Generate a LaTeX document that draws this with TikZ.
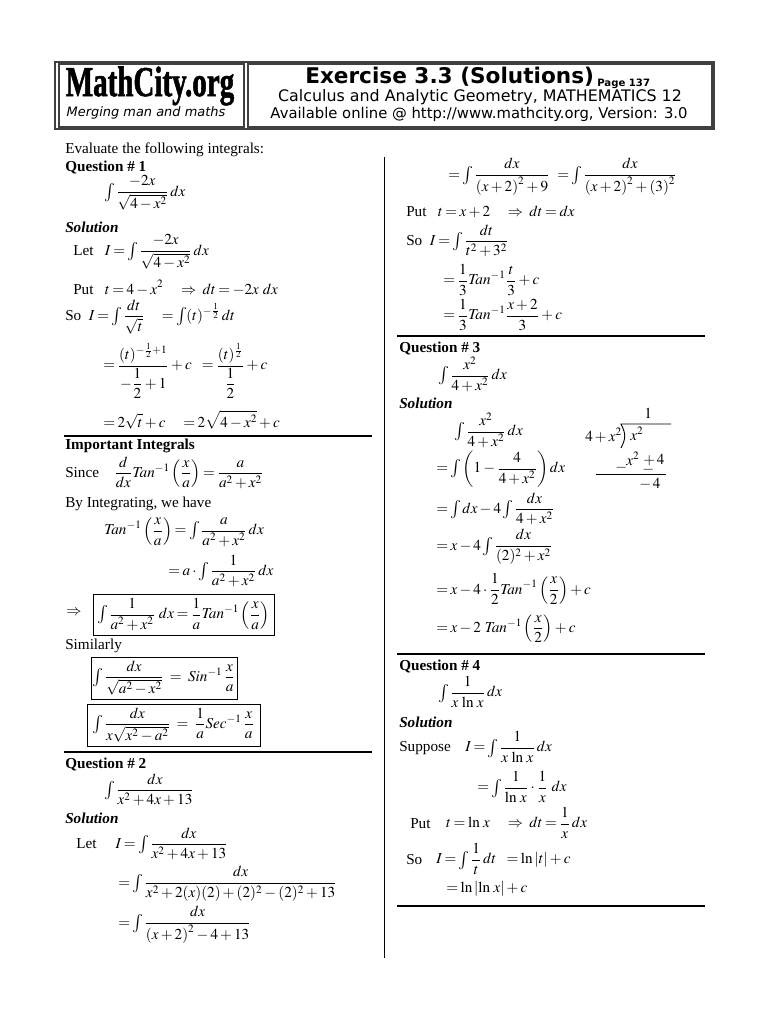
\documentclass[tikz,border=0pt]{standalone}
\usepackage{amsmath}
\usepackage{mathptmx}
\usepackage{graphicx}
\usepackage[no-math]{fontspec}
\setmainfont{Liberation Serif}
\newfontfamily\headfont{DejaVu Sans}
\newfontfamily\logofont[FakeStretch=0.68,FakeBold=1.2]{Liberation Serif Bold}
\newcommand{\ds}{\displaystyle\thickmuskip=3mu\medmuskip=2.5mu}
\newcommand{\Int}{\mathop{\vcenter{\hbox{\scalebox{1.2}{$\textstyle\int$}}}}\nolimits\mspace{-1mu}}
\newcommand{\Tani}{\mathit{Tan}^{-1}}
\newcommand{\Sini}{\mathit{Sin}^{-1}}
\newcommand{\Seci}{\mathit{Sec}^{-1}}
\tikzset{
  txt/.style={anchor=west,inner sep=0pt,font=\fontsize{11.4}{13}\selectfont},
  head/.style={txt,font=\fontsize{11.4}{13}\selectfont\bfseries},
  sol/.style={txt,font=\fontsize{11.4}{13}\selectfont\bfseries\itshape},
  boxed/.style={draw,line width=0.7pt,inner sep=0pt,font=\fontsize{11.4}{13}\selectfont},
  rulebar/.style={line width=1.1pt},
  frame/.style={line width=0.85pt,draw=black!75}
}
\begin{document}
\begin{tikzpicture}[x=0.75pt,y=-0.75pt]
  \useasboundingbox (0,0) rectangle (768,1024);
  \draw[frame,line width=1.2pt] (55,62) rectangle (714,129);
  \draw[frame] (59,64) rectangle (244,127);
  \draw[frame] (248,64) rectangle (712,127);
  \node[inner sep=0pt] (logo) at (150,86) {\logofont\fontsize{32}{34}\selectfont MathCity.org};
  \node[inner sep=0pt] (motto) at (146,113) {\headfont\itshape\fontsize{9.7}{11}\selectfont Merging man and maths};
  \node[inner sep=0pt,anchor=west] (title) at (305,77) {\headfont\bfseries\fontsize{16.2}{18}\selectfont Exercise 3.3 (Solutions)};
  \node[inner sep=0pt,anchor=west] (page) at (597,84) {\headfont\bfseries\fontsize{7.6}{9}\selectfont Page 137};
  \node[inner sep=0pt] (book) at (480,97) {\headfont\fontsize{11.9}{14}\selectfont Calculus and Analytic Geometry, MATHEMATICS 12};
  \node[inner sep=0pt] (site) at (479,114) {\headfont\fontsize{11.1}{13}\selectfont Available online @ http://www.mathcity.org, Version: 3.0};
  \draw[line width=0.7pt] (384,157) -- (384,958);
  % left column
  \node[txt] (intro) at (65,150) {Evaluate the following integrals:};
  \node[head] (q1) at (65,167) {Question \# 1};
  \node[txt] (q1a) at (104,193) {$\ds\Int\frac{-2x}{\sqrt{4-x^2}}\,dx$};
  \node[sol] (s1) at (65,227) {Solution};
  \node[txt] (s1let) at (73,252) {Let\ \ \ $\ds I=\Int\frac{-2x}{\sqrt{4-x^2}}\,dx$};
  \node[txt] (s1put) at (73,288) {Put\ \ \ $\ds t=4-x^2\quad\Rightarrow\ dt=-2x\ dx$};
  \node[txt] (s1so) at (65,317) {So\ \ $\ds I=\Int\frac{dt}{\sqrt{t}}\quad=\Int(t)^{-\frac12}\,dt$};
  \node[txt] (s1a) at (103,371) {$\ds=\frac{(t)^{-\frac12+1}}{-\dfrac12+1}+c\ \ =\frac{(t)^{\frac12}}{\dfrac12}+c$};
  \node[txt] (s1b) at (103,420) {$\ds=2\sqrt{t}+c\quad=2\sqrt{4-x^2}+c$};
  \draw[rulebar] (64,436) -- (372,436);
  \node[head] (imp) at (65,446) {Important Integrals};
  \node[txt] (since) at (65,473) {Since\quad$\ds\frac{d}{dx}\Tani\left(\frac{x}{a}\right)=\frac{a}{a^2+x^2}$};
  \node[txt] (byint) at (65,504) {By Integrating, we have};
  \node[txt] (i1) at (104,532) {$\ds\Tani\left(\frac{x}{a}\right)=\Int\frac{a}{a^2+x^2}\,dx$};
  \node[txt] (i2) at (168,571) {$\ds=a\cdot\Int\frac{1}{a^2+x^2}\,dx$};
  \node[txt] (imply) at (66,613) {$\Rightarrow$};
  \node[boxed,minimum width=135.75pt,minimum height=30.75pt] (box1) at (183.5,614.5) {$\ds\Int\frac{1}{a^2+x^2}\ dx=\frac{1}{a}\Tani\left(\frac{x}{a}\right)$};
  \node[txt] (simil) at (65,646) {Similarly};
  \node[boxed,minimum width=109.5pt,minimum height=31.5pt] (box2) at (164,678) {$\ds\Int\frac{dx}{\sqrt{a^2-x^2}}\ =\ \Sini\,\frac{x}{a}$};
  \node[boxed,minimum width=129.75pt,minimum height=31.5pt] (box3) at (173.5,725) {$\ds\Int\frac{dx}{x\sqrt{x^2-a^2}}\ =\ \frac{1}{a}\Seci\,\frac{x}{a}$};
  \draw[rulebar] (64,752) -- (372,752);
  \node[head] (q2) at (65,764) {Question \# 2};
  \node[txt] (q2a) at (104,790) {$\ds\Int\frac{dx}{x^2+4x+13}$};
  \node[sol] (s2) at (65,818) {Solution};
  \node[txt] (s2let) at (76,844) {Let\quad\ $\ds I=\Int\frac{dx}{x^2+4x+13}$};
  \node[txt] (s2a) at (118,884) {$\ds=\Int\frac{dx}{x^2+2(x)(2)+(2)^2-(2)^2+13}$};
  \node[txt] (s2b) at (118,925) {$\ds=\Int\frac{dx}{\left(x+2\right)^2-4+13}$};
  % right column
  \node[txt] (s2c) at (448,177) {$\ds=\Int\frac{dx}{\left(x+2\right)^2+9}$};
  \node[txt] (s2d) at (557,177) {$\ds=\Int\frac{dx}{\left(x+2\right)^2+\left(3\right)^2}$};
  \node[txt] (s2put) at (406,212) {Put\ \ \ $\ds t=x+2\quad\Rightarrow\ dt=dx$};
  \node[txt] (s2so) at (406,241) {So\ \ $\ds I=\Int\frac{dt}{t^2+3^2}$};
  \node[txt] (s2e) at (443,280) {$\ds=\frac{1}{3}\Tani\frac{t}{3}+c$};
  \node[txt] (s2f) at (443,315) {$\ds=\frac{1}{3}\Tani\frac{x+2}{3}+c$};
  \draw[rulebar] (397,336) -- (705,336);
  \node[head] (q3) at (399,348) {Question \# 3};
  \node[txt] (q3a) at (438,374) {$\ds\Int\frac{x^2}{4+x^2}\,dx$};
  \node[sol] (s3) at (399,403) {Solution};
  \node[txt] (s3a) at (454,430) {$\ds\Int\frac{x^2}{4+x^2}\,dx$};
  \node[txt] (divq) at (644,413) {$1$};
  \node[txt] (divd) at (585,435) {$\ds 4+x^2$};
  \node[txt] (divn) at (630,434) {$x^2$};
  \coordinate (rad) at (621,424);
  \coordinate (radend) at (671,424);
  \draw[line width=0.7pt] (radend) -- (rad) .. controls (626,434) and (626,438) .. (621,448);
  \node[txt] (divs) at (626,459) {$x^2$};
  \node[txt] (divp) at (643,460) {$+\,4$};
  \node[txt] (divm) at (615,468) {$-$};
  \node[txt] (divu) at (642,470) {$-$};
  \draw[line width=0.7pt] (596,474) -- (666,474);
  \node[txt] (divr) at (639,484) {$-\,4$};
  \node[txt] (s3b) at (436,469) {$\ds=\Int\left(1-\frac{4}{4+x^2}\right)dx$};
  \node[txt] (s3c) at (436,509) {$\ds=\Int dx-4\Int\frac{dx}{4+x^2}$};
  \node[txt] (s3d) at (436,547) {$\ds=x-4\Int\frac{dx}{(2)^2+x^2}$};
  \node[txt] (s3e) at (436,589) {$\ds=x-4\cdot\frac{1}{2}\Tani\left(\frac{x}{2}\right)+c$};
  \node[txt] (s3f) at (436,629) {$\ds=x-2\ \Tani\left(\frac{x}{2}\right)+c$};
  \draw[rulebar] (397,654) -- (705,654);
  \node[head] (q4) at (399,666) {Question \# 4};
  \node[txt] (q4a) at (438,692) {$\ds\Int\frac{1}{x\,\ln\,x}\,dx$};
  \node[sol] (s4) at (399,722) {Solution};
  \node[txt] (supp) at (399,748) {Suppose};
  \node[txt] (s4a) at (465,747) {$\ds I=\Int\frac{1}{x\,\ln\,x}\,dx$};
  \node[txt] (s4b) at (477,787) {$\ds=\Int\frac{1}{\ln\,x}\cdot\frac{1}{x}\ dx$};
  \node[txt] (s4put) at (410,824) {Put};
  \node[txt] (s4t) at (446,823) {$\ds t=\ln\,x\quad\Rightarrow\ dt=\frac{1}{x}\,dx$};
  \node[txt] (s4so) at (406,860) {So};
  \node[txt] (s4c) at (436,859) {$\ds I=\Int\frac{1}{t}\,dt\ \ =\ln\left|t\right|+c$};
  \node[txt] (s4d) at (446,889) {$\ds=\ln\left|\ln\,x\right|+c$};
  \draw[rulebar] (397,906) -- (705,906);
\end{tikzpicture}
\end{document}
